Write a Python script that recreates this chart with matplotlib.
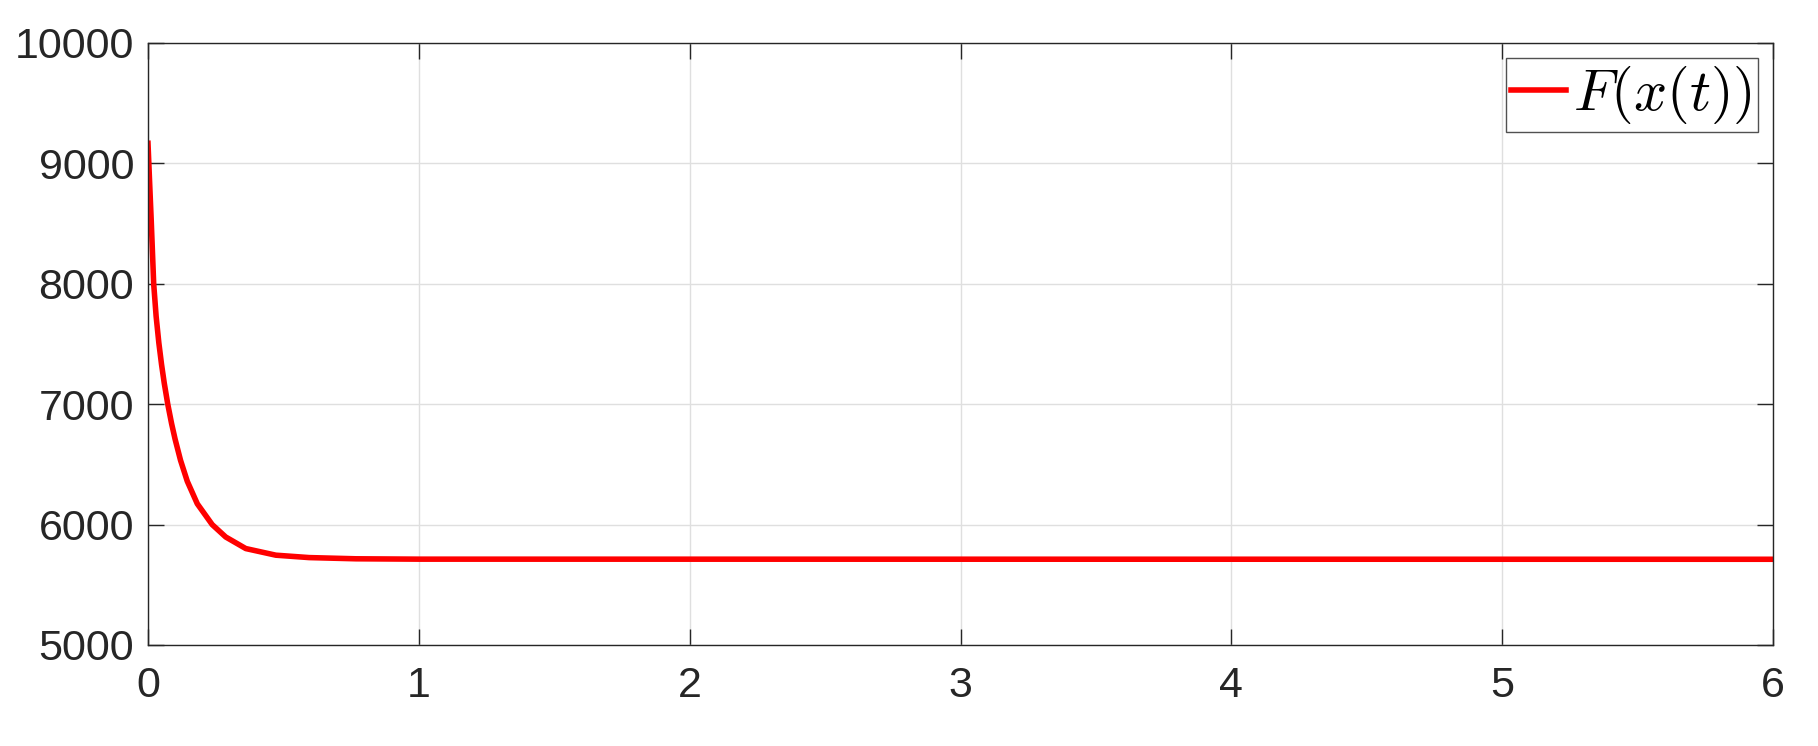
import numpy as np
from matplotlib import pyplot as plt

# values
t = [0.0, 0.006, 0.012, 0.021, 0.030, 0.040, 0.050, 0.060, 0.073, 0.087,
     0.100, 0.120, 0.145, 0.182, 0.237, 0.287, 0.361, 0.472, 0.595, 0.768,
     1.0, 6.0]
F = [9167, 8840, 8520, 8000, 7730, 7510, 7330, 7175, 7000, 6840,
     6710, 6535, 6360, 6173, 6000, 5897, 5801, 5746, 5726, 5716,
     5713, 5712]
x_ticks = [0, 1, 2, 3, 4, 5, 6]
y_ticks = [5000, 6000, 7000, 8000, 9000, 10000]

plt.rcParams["font.family"] = ["Liberation Sans", "DejaVu Sans"]
plt.rcParams["mathtext.fontset"] = "cm"

dark = "#262626"
fig = plt.figure(figsize=(18.18, 7.46), dpi=100)
ax = fig.add_axes([148 / 1818, 1 - 645 / 746, (1773 - 148) / 1818, (645 - 43) / 746])

ax.plot(t, F, color="#ff0000", linewidth=4, label=r"$F(x(t))$")

ax.set_xlim(0, 6)
ax.set_ylim(5000, 10000)
ax.set_xticks(x_ticks)
ax.set_yticks(y_ticks)
ax.grid(True, color="#dfdfdf", linewidth=1)
ax.set_axisbelow(True)
ax.tick_params(direction="in", length=11.5, width=1, colors=dark, labelsize=31,
               top=True, right=True)
ax.tick_params(axis="y", pad=10)
ax.tick_params(axis="x", pad=15)
for s in ax.spines.values():
    s.set_color(dark)
    s.set_linewidth(1)

leg = ax.legend(loc="upper right", fontsize=42, frameon=True, fancybox=False,
                handlelength=0.94, handletextpad=0.12, borderpad=0.1,
                borderaxespad=0.26)
leg.get_frame().set_edgecolor(dark)
leg.get_frame().set_linewidth(1)

fig.savefig("out.png", dpi=100)
